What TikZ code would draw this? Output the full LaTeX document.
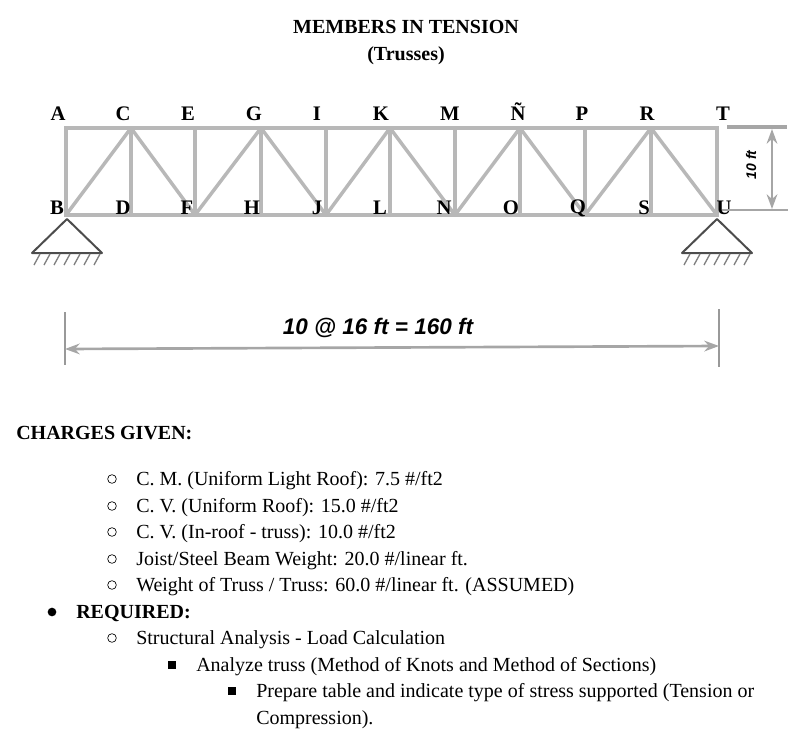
\documentclass[tikz,border=0pt]{standalone}
\usepackage{fontspec}
\setmainfont{Liberation Serif}
\newfontfamily\arialfont{Liberation Sans}
\usetikzlibrary{arrows.meta}
\tikzset{
	member/.style={draw=black!28,line width=3pt,line cap=round},
	joint/.style={inner sep=0pt,font=\fontsize{15.5}{18}\selectfont\bfseries},
	support/.style={draw=black!70,line width=1.5pt,line join=round},
	hatch/.style={draw=black!50,line width=1pt},
	dimline/.style={draw=black!35,line width=2pt},
	dimarrow/.style={dimline,{Stealth[length=11pt,width=8pt]}-{Stealth[length=11pt,width=8pt]}},
	body/.style={anchor=base west,inner sep=0pt,font=\fontsize{15}{18}\selectfont},
	head/.style={body,font=\fontsize{15}{18}\selectfont\bfseries},
	title/.style={anchor=base,inner sep=0pt,font=\fontsize{15}{18}\selectfont\bfseries},
	ring/.style={draw=black,circle,line width=0.5pt,minimum size=6.5pt,inner sep=0pt},
	disc/.style={fill=black,circle,minimum size=6.5pt,inner sep=0pt},
	block/.style={fill=black,minimum size=5.5pt,inner sep=0pt},
}
\begin{document}
\begin{tikzpicture}[x=0.75pt,y=-0.75pt]
	\useasboundingbox (0,0) rectangle (808,732);
	% joints
	\coordinate (A) at (66,128);
	\coordinate (C) at (131,128);
	\coordinate (E) at (195,128);
	\coordinate (G) at (261,128);
	\coordinate (I) at (326,128);
	\coordinate (K) at (390,128);
	\coordinate (M) at (455,128);
	\coordinate (Nt) at (520,128);
	\coordinate (P) at (585,128);
	\coordinate (R) at (651,128);
	\coordinate (T) at (717,128);
	\coordinate (B) at (66,215);
	\coordinate (D) at (131,215);
	\coordinate (F) at (195,215);
	\coordinate (H) at (261,215);
	\coordinate (J) at (326,215);
	\coordinate (L) at (390,215);
	\coordinate (N) at (455,215);
	\coordinate (O) at (520,215);
	\coordinate (Q) at (585,215);
	\coordinate (S) at (651,215);
	\coordinate (U) at (717,215);
	%
	\draw[member] (A) -- (T) -- (U) -- (B) -- cycle;
	\foreach \up/\down in {C/D,E/F,G/H,I/J,K/L,M/N,Nt/O,P/Q,R/S}
		\draw[member] (\up) -- (\down);
	\foreach \from/\to in {B/C,C/F,F/G,G/J,J/K,K/N,N/Nt,Nt/Q,Q/R,R/U}
		\draw[member,line width=2.6pt] (\from) -- (\to);
	% letters
	\node[joint] (labA) at (58,114) {A};
	\node[joint] (labC) at (123,114) {C};
	\node[joint] (labE) at (188,114) {E};
	\node[joint] (labG) at (254,114) {G};
	\node[joint] (labI) at (317,114) {I};
	\node[joint] (labK) at (381,114) {K};
	\node[joint] (labM) at (450,114) {M};
	\node[joint] (labNt) at (518,112) {Ñ};
	\node[joint] (labP) at (582,114) {P};
	\node[joint] (labR) at (647,114) {R};
	\node[joint] (labT) at (723,114) {T};
	\node[joint] (labB) at (57,208) {B};
	\node[joint] (labD) at (123,208) {D};
	\node[joint] (labF) at (187,208) {F};
	\node[joint] (labH) at (252,208) {H};
	\node[joint] (labJ) at (317,208) {J};
	\node[joint] (labL) at (380,208) {L};
	\node[joint] (labN) at (444,208) {N};
	\node[joint] (labO) at (511,208) {O};
	\node[joint] (labQ) at (578,208) {Q};
	\node[joint] (labS) at (644,208) {S};
	\node[joint] (labU) at (724,208) {U};
	% supports
	\foreach \apex in {67,717} {
		\draw[support] (\apex,219) -- ++(-35,34) -- ++(70,0) -- cycle;
		\foreach \i in {0,...,6}
			\draw[hatch] ({\apex-27+\i*10},254) -- ++(-6,11);
	}
	% dimensions
	\coordinate (topext) at (787,127);
	\coordinate (botext) at (788,210);
	\coordinate (topend) at (727,127);
	\coordinate (botend) at (722,210);
	\coordinate (uptip) at (772,129);
	\coordinate (downtip) at (772,209);
	\draw[dimline,line width=2.4pt] (topend) -- (topext);
	\draw[dimline,line width=1.6pt] (botend) -- (botext);
	\draw[dimarrow] (uptip) -- (downtip);
	\node[rotate=90,inner sep=0pt,font=\arialfont\fontsize{10.5}{12}\selectfont\bfseries\itshape] (rise) at (751,165) {10 ft};
	%
	\coordinate (spanl) at (65,349);
	\coordinate (spanr) at (719,346);
	\coordinate (tickla) at (65,312);
	\coordinate (ticklb) at (65,365);
	\coordinate (tickra) at (719,309);
	\coordinate (tickrb) at (719,367);
	\draw[draw=black!40,line width=1pt] (tickla) -- (ticklb);
	\draw[draw=black!40,line width=1pt] (tickra) -- (tickrb);
	\draw[dimarrow] (spanl) -- (spanr);
	\node[inner sep=0pt,font=\arialfont\fontsize{16.9}{20}\selectfont\bfseries\itshape] (span) at (378,328) {10 @ 16 ft = 160 ft};
	% text
	\node[title] (t1) at (406,33) {MEMBERS IN TENSION};
	\node[title] (t2) at (406,60) {(Trusses)};
	\node[head] (given) at (16,439) {CHARGES GIVEN:};
	\node[body] (l1) at (136,485) {C. M. (Uniform Light Roof): 7.5 \#/ft2};
	\node[body] (l2) at (136,512) {C. V. (Uniform Roof): 15.0 \#/ft2};
	\node[body] (l3) at (136,538) {C. V. (In-roof - truss): 10.0 \#/ft2};
	\node[body] (l4) at (136,565) {Joist/Steel Beam Weight: 20.0 \#/linear ft.};
	\node[body] (l5) at (136,591) {Weight of Truss / Truss: 60.0 \#/linear ft. (ASSUMED)};
	\node[head] (req) at (76,618) {REQUIRED:};
	\node[body] (l6) at (136,644) {Structural Analysis - Load Calculation};
	\node[body] (l7) at (196,671) {Analyze truss (Method of Knots and Method of Sections)};
	\node[body] (l8) at (256,697) {Prepare table and indicate type of stress supported (Tension or};
	\node[body] (l9) at (256,724) {Compression).};
	% bullets
	\node[ring] (b1) at (112,479) {};
	\node[ring] (b2) at (112,506) {};
	\node[ring] (b3) at (112,532) {};
	\node[ring] (b4) at (112,559) {};
	\node[ring] (b5) at (112,585) {};
	\node[disc] (b6) at (52,612) {};
	\node[ring] (b7) at (112,638) {};
	\node[block] (b8) at (172,665) {};
	\node[block] (b9) at (232,691) {};
\end{tikzpicture}
\end{document}
